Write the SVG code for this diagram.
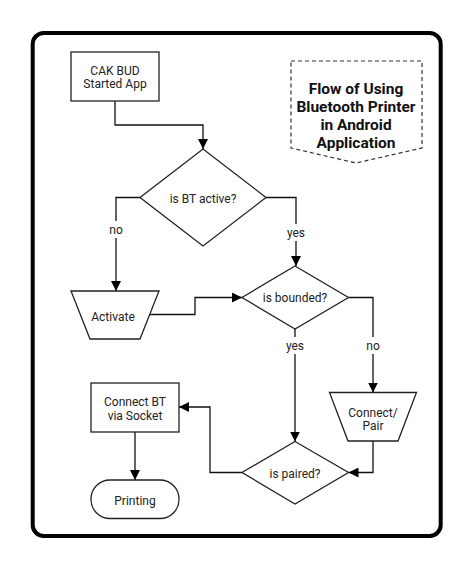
<svg xmlns="http://www.w3.org/2000/svg" width="474" height="571" viewBox="0 0 474 571">
<defs>
<marker id="arr" viewBox="0 0 10 10" refX="10" refY="5" markerWidth="10" markerHeight="10" markerUnits="userSpaceOnUse" orient="auto">
<path d="M0,0 L10,5 L0,10 Z" fill="#000"/>
</marker>
<style>
.shape{fill:#fff;stroke:#222;stroke-width:1.3}
.conn{fill:none;stroke:#111;stroke-width:1.3;marker-end:url(#arr)}
.line{fill:none;stroke:#111;stroke-width:1.3}
text{font-family:Roboto,"Liberation Sans",sans-serif;font-size:12px;fill:#222;text-anchor:middle}
.title{font-weight:bold;font-size:15.5px;fill:#111}
</style>
</defs>
<rect width="474" height="571" fill="#fff"/>
<rect x="32.7" y="33" width="408" height="503" rx="11" fill="#fff" stroke="#000" stroke-width="4"/>

<g id="title">
<path d="M291,61 H422 V148 L356,163 L291,148 Z" fill="#fff" stroke="#333" stroke-width="1.2" stroke-dasharray="4,3"/>
<text class="title" x="356" y="94.3">Flow of Using</text>
<text class="title" x="356" y="112.2">Bluetooth Printer</text>
<text class="title" x="356" y="130">in Android</text>
<text class="title" x="356" y="147.8">Application</text>
</g>

<g id="connectors">
<path class="conn" d="M115,101 V125 H203 V149"/>
<path class="line" d="M140,197.5 H116 V221"/>
<path class="conn" d="M116,238 V291"/>
<text x="116" y="234">no</text>
<path class="line" d="M266,197.5 H296 V224"/>
<path class="conn" d="M296,241 V266"/>
<text x="296" y="237">yes</text>
<path class="conn" d="M148,314.5 H195 V297.5 H242"/>
<path class="line" d="M295,329 V337"/>
<path class="conn" d="M295,354 V441.5"/>
<text x="295" y="350">yes</text>
<path class="line" d="M348.5,297.5 H373 V337"/>
<path class="conn" d="M373,354 V392.5"/>
<text x="373" y="350">no</text>
<path class="conn" d="M373,441 V472.5 H348.5"/>
<path class="conn" d="M242,472.5 H210 V407 H179"/>
<path class="conn" d="M135,432 V480"/>
</g>

<g id="start">
<rect class="shape" x="71" y="52" width="88" height="49"/>
<text x="115" y="74.5">CAK BUD</text>
<text x="115" y="88">Started App</text>
</g>

<g id="is-bt-active">
<path class="shape" d="M203,149 L266,197.5 L203,246 L140,197.5 Z"/>
<text x="203" y="202.5">is BT active?</text>
</g>

<g id="activate">
<path class="shape" d="M71,291 H159 L140,339 H90 Z"/>
<text x="113" y="320.5">Activate</text>
</g>

<g id="is-bounded">
<path class="shape" d="M295,266 L348.5,297.5 L295,329 L242,297.5 Z"/>
<text x="295" y="302">is bounded?</text>
</g>

<g id="connect-pair">
<path class="shape" d="M329.5,392.5 H416.5 L398,441 H348 Z"/>
<text x="373" y="416.5">Connect/</text>
<text x="373" y="429.5">Pair</text>
</g>

<g id="is-paired">
<path class="shape" d="M295,441.5 L348.5,472.5 L295,504 L242,472.5 Z"/>
<text x="295" y="477.5">is paired?</text>
</g>

<g id="connect-bt">
<rect class="shape" x="91" y="383" width="88" height="49"/>
<text x="135" y="406">Connect BT</text>
<text x="135" y="419.5">via Socket</text>
</g>

<g id="printing">
<rect class="shape" x="91" y="480" width="88" height="38.5" rx="19"/>
<text x="135" y="504.5">Printing</text>
</g>
</svg>
